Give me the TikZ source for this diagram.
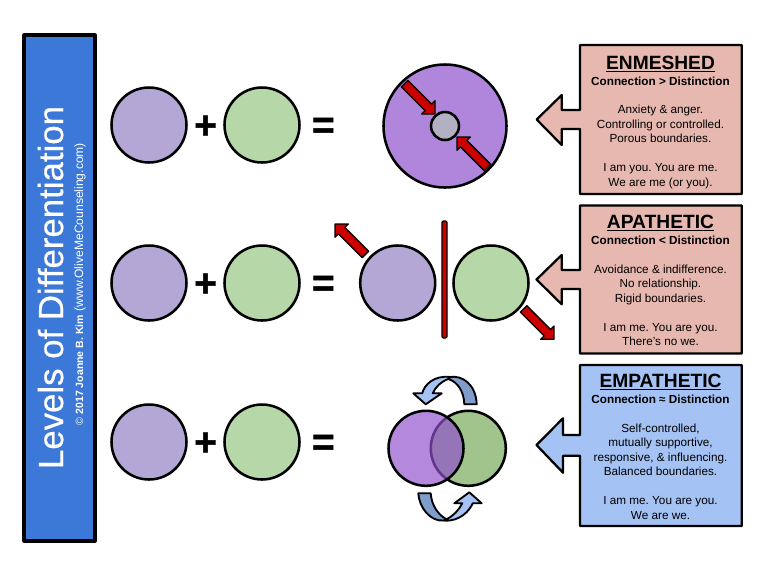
\documentclass[tikz,border=0pt]{standalone}
\usepackage{fontspec}
\setmainfont{Liberation Sans}
\frenchspacing
\definecolor{panelblue}{HTML}{3C78D8}
\definecolor{lilac}{HTML}{B4A7D6}
\definecolor{sage}{HTML}{B6D7A8}
\definecolor{bigpurple}{HTML}{B085DC}
\definecolor{coregrey}{HTML}{B4B0C4}
\definecolor{redbar}{HTML}{CC0000}
\definecolor{boxpink}{HTML}{E6B8AF}
\definecolor{boxblue}{HTML}{A4C2F4}
\definecolor{swirldark}{HTML}{7F9CCB}
\definecolor{venngreen}{HTML}{A0C48C}
\definecolor{vennpurple}{HTML}{9150CC}
\tikzset{
  outline/.style={draw=black,line width=1.9pt},
  boxline/.style={draw=black,line width=1.7pt,line join=round},
  thinline/.style={draw=black,line width=1pt,line join=round},
  swirlline/.style={draw=black,line width=1.4pt,line join=round},
  opsign/.style={font=\fontsize{29}{29}\selectfont\bfseries\addfontfeature{FakeBold=1.6},inner sep=0pt},
  boxtext/.style={anchor=north,align=center,inner sep=0pt,font=\fontsize{8.8}{10.85}\selectfont},
}
\newcommand{\redarrow}[3]{
  \draw[thinline,fill=redbar,shift={(#1,#2)},rotate=#3] (0,0) -- (-9.4,9.4) -- (-9.4,4.5) -- (-43,4.5) -- (-43,-4.5) -- (-9.4,-4.5) -- (-9.4,-9.4) -- cycle;
}
\newcommand{\boxhead}[2]{{\fontsize{14.4}{16}\selectfont\bfseries\underline{#1}}\\[1.2pt]{\bfseries #2}\\[10.6pt]}
\begin{document}
\begin{tikzpicture}[x=0.75pt,y=-0.75pt]
  \useasboundingbox (0,0) rectangle (768,576);

  % side panel
  \draw[boxline,line width=2.3pt,fill=panelblue] (24,35) rectangle (95,541);
  \node[rotate=90,anchor=base,white,inner sep=0pt,font=\fontsize{26.1}{26}\selectfont\addfontfeature{FakeBold=0.5}] (paneltitle) at (63,287.5) {Levels of Differentiation};
  \node[rotate=90,anchor=base,white,inner sep=0pt,font=\fontsize{9.1}{9}\selectfont] (panelcredit) at (83,284) {{\fontsize{7.9}{9}\selectfont © \textbf{2017 Joanne B. Kim}} (www.OliveMeCounseling.com)};

  % left hand sums
  \foreach \rowy/\rowname in {125/a,283/b,442/c} {
    \draw[outline,fill=lilac] (149,\rowy) circle [radius=37.5];
    \draw[outline,fill=sage] (262,\rowy) circle [radius=37.5];
    \node[opsign] (plus\rowname) at (205.5,\rowy+2) {+};
    \node[opsign] (equals\rowname) at (323.3,\rowy+3) {=};
  }

  % enmeshed
  \draw[outline,fill=bigpurple] (445,126) circle [radius=61.5];
  \draw[outline,fill=coregrey] (445,126) circle [radius=14];
  \redarrow{435}{114}{-45}
  \redarrow{457}{137}{135}

  % apathetic
  \draw[outline,fill=lilac] (397.7,283) circle [radius=37.5];
  \draw[outline,fill=sage] (491,283) circle [radius=37.5];
  \draw[thinline,fill=redbar,rounded corners=1pt] (442,221) rectangle (447,338);
  \redarrow{335}{224}{135}
  \redarrow{554}{339.3}{-45}

  % empathetic
  \draw[outline,fill=venngreen] (468.3,448.3) circle [radius=37.5];
  \draw[outline,fill=vennpurple,fill opacity=0.68] (426,448.3) circle [radius=37.5];
  \draw[swirlline,fill=swirldark] (464.3,404.3) .. controls (464,392) and (458,382) .. (448.3,379)
    -- (450,377) .. controls (462,375) and (476,384) .. (476.7,404.3) -- cycle;
  \draw[swirlline,fill=boxblue] (448.3,379) .. controls (441,381.5) and (435.5,387) .. (432.7,393.3)
    -- (441.7,393.3) -- (425.7,404.3) -- (413.3,393.3) -- (422.3,393.3)
    .. controls (424,385) and (434,375) .. (450,377) -- cycle;
  \draw[swirlline,fill=swirldark] (430.7,493.3) .. controls (431.5,505) and (438,515) .. (446.7,519.3)
    -- (444,520.5) .. controls (430,522) and (419,507) .. (418.3,493.3) -- cycle;
  \draw[swirlline,fill=boxblue] (446.7,519.3) .. controls (453,516) and (459,510) .. (462.3,503.3)
    -- (454.3,503.3) -- (469.3,492.3) -- (481.7,503.3) -- (472.7,503.3)
    .. controls (470,510) and (460,522) .. (444,520.5) -- cycle;

  % label boxes with their pointers
  \draw[boxline,fill=boxpink] (580,45) -- (741.7,45) -- (741.7,194) -- (580,194) -- (580,129) -- (561.7,129) -- (561.7,145) -- (536.7,119.5) -- (561.7,95) -- (561.7,110) -- (580,110) -- cycle;
  \draw[boxline,fill=boxpink] (580,205.5) -- (741.7,205.5) -- (741.7,353.5) -- (580,353.5) -- (580,289) -- (561.7,289) -- (561.7,304.3) -- (536.5,279.5) -- (561.7,255) -- (561.7,270) -- (580,270) -- cycle;
  \draw[boxline,fill=boxblue] (580,365) -- (741.7,365) -- (741.7,526) -- (580,526) -- (580,455.7) -- (563,455.7) -- (563,472.7) -- (536.5,445) -- (563,418.3) -- (563,435) -- (580,435) -- cycle;

  \node[boxtext] (enmeshed) at (660.5,55.5) {\boxhead{ENMESHED}{Connection > Distinction}Anxiety \& anger.\\Controlling or controlled.\\Porous boundaries.\\[10.8pt]I am you. You are me.\\We are me (or you).};
  \node[boxtext] (apathetic) at (660.5,215) {\boxhead{APATHETIC}{Connection < Distinction}Avoidance \& indifference.\\No relationship.\\Rigid boundaries.\\[10.8pt]I am me. You are you.\\There’s no we.};
  \node[boxtext] (empathetic) at (660.5,374) {\boxhead{EMPATHETIC}{Connection ≈ Distinction}Self-controlled,\\mutually supportive,\\responsive, \& influencing.\\Balanced boundaries.\\[10.8pt]I am me. You are you.\\We are we.};
\end{tikzpicture}
\end{document}
